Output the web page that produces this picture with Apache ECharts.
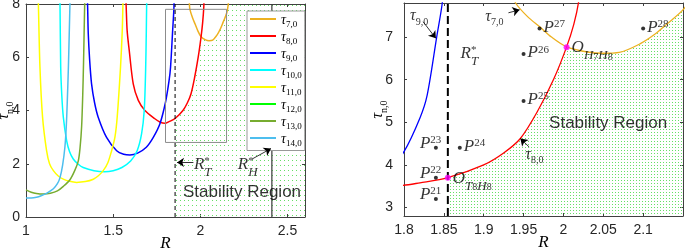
<!DOCTYPE html>
<html>
<head>
<meta charset="utf-8">
<script src="https://cdn.jsdelivr.net/npm/echarts@6/dist/echarts.min.js"></script>
<style>html,body{margin:0;background:#fff}#box{width:685px;height:251px}</style>
</head>
<body>
<div id="box"></div>
<script>
// curves tau_{n,0}(R)
var tau7 = [[1.934,8.4],[1.937,8.0],[1.940,7.80],[1.955,7.48],[1.971,7.23],[1.985,7.0],[2.004,6.77],[2.03,6.65],[2.05,6.62],[2.07,6.64],[2.096,6.84],[2.115,7.07],[2.13,7.31],[2.151,7.66],[2.160,8.0],[2.163,8.4]];
var tau8 = [[1.571,8.4],[1.574,8.0],[1.580,7.0],[1.592,6.26],[1.615,5.0],[1.644,4.38],[1.682,4.0],[1.739,3.69],[1.770,3.56],[1.797,3.52],[1.820,3.58],[1.855,3.70],[1.90,4.0],[1.925,4.28],[1.946,4.62],[1.967,5.24],[1.988,6.02],[2.004,6.77],[2.013,7.3],[2.019,7.82],[2.022,8.4]];
var tau9 = [[1.350,8.4],[1.353,8.0],[1.357,6.9],[1.365,5.9],[1.376,5.0],[1.393,4.3],[1.414,3.75],[1.462,2.99],[1.52,2.49],[1.56,2.36],[1.596,2.33],[1.64,2.40],[1.69,2.62],[1.73,2.99],[1.768,3.5],[1.80,4.31],[1.82,5.1],[1.829,5.63],[1.841,7.0],[1.848,7.8],[1.850,8.4]];
var tau10 = [[1.193,8.4],[1.195,8.0],[1.199,5.63],[1.205,4.6],[1.214,3.75],[1.233,2.87],[1.250,2.45],[1.271,2.18],[1.30,1.98],[1.328,1.86],[1.39,1.74],[1.45,1.70],[1.50,1.74],[1.55,1.86],[1.60,2.1],[1.638,2.5],[1.663,3.13],[1.678,4.0],[1.686,5.5],[1.690,7.0],[1.692,8.0],[1.694,8.4]];
var tau11 = [[1.069,8.4],[1.071,8.0],[1.080,5.63],[1.095,3.75],[1.118,2.49],[1.135,2.0],[1.157,1.74],[1.185,1.54],[1.214,1.42],[1.25,1.34],[1.29,1.30],[1.34,1.33],[1.386,1.42],[1.415,1.55],[1.443,1.74],[1.47,2.05],[1.491,2.49],[1.510,3.0],[1.523,3.75],[1.542,5.63],[1.552,7.0],[1.556,8.0],[1.558,8.4]];
var tau12 = [];
var tau13 = [[1.0,1.02],[1.03,0.93],[1.06,0.88],[1.10,0.86],[1.14,0.89],[1.18,0.98],[1.214,1.15],[1.252,1.40],[1.28,1.75],[1.30,2.11],[1.310,2.6],[1.319,3.4],[1.325,4.5],[1.330,5.8],[1.335,7.5],[1.338,8.4]];
var tau14 = [[1.0,0.71],[1.03,0.71],[1.06,0.74],[1.09,0.81],[1.12,0.90],[1.157,1.06],[1.18,1.25],[1.195,1.48],[1.210,1.95],[1.223,2.62],[1.231,3.4],[1.237,4.38],[1.243,5.6],[1.248,6.89],[1.252,8.0],[1.253,8.4]];

var names = ['τ7,0','τ8,0','τ9,0','τ10,0','τ11,0','τ12,0','τ13,0','τ14,0'];
var colors = ['#EDB120','#FF0000','#0000FF','#00FFFF','#FFFF00','#00FF00','#77AC30','#4DBEEE'];
var curves = [tau7, tau8, tau9, tau10, tau11, tau12, tau13, tau14];

var RT = 1.855, RH = 2.41;            // R*_T, R*_H
var OT = [1.855, 3.70], OH = [2.004, 6.76];
// sample points P^21..P^28 : [label, R, tau]
var pts = [['21',1.84,3.2],['22',1.84,3.7],['23',1.84,4.4],['24',1.87,4.4],['25',1.95,5.5],['26',1.95,6.6],['27',1.97,7.2],['28',2.1,7.2]];

var xTicksL = [1, 1.5, 2, 2.5], yTicksL = [0, 2, 4, 6, 8];
var xTicksR = [1.8, 1.85, 1.9, 1.95, 2, 2.05, 2.1], yTicksR = [3, 4, 5, 6, 7];
var inset = [[1.8,2.8],[2.15,2.8],[2.15,7.8],[1.8,7.8],[1.8,2.8]];

// stability boundary: R*_T -> along tau8 -> O_H7H8 -> along tau7 -> top
var stab = [OT].concat(tau8.filter(function (p) { return p[0] > OT[0] && p[0] < OH[0]; }))
  .concat([OH]).concat(tau7.filter(function (p) { return p[0] > OH[0]; })).concat([[2.6, 8.4]]);

var serif = "'Liberation Serif','DejaVu Serif',serif";
var sans = "'Liberation Sans',Arial,sans-serif";

function dots(w, h) {
  var c = document.createElement('canvas');
  c.width = w; c.height = h;
  var g = c.getContext('2d');
  g.fillStyle = '#66e066';
  g.fillRect(0, 0, 1, 1);
  return c;
}

var rich = {
  R: { fontFamily: serif, fontStyle: 'italic', fontSize: 17, lineHeight: 16, verticalAlign: 'top', color: '#000' },
  st: { fontFamily: serif, fontSize: 11, lineHeight: 8, verticalAlign: 'top', width: 0, color: '#000' },
  sb: { fontFamily: serif, fontStyle: 'italic', fontSize: 13, lineHeight: 8, padding: [10, 0, 0, 0], verticalAlign: 'top', color: '#000' },
  sd: { fontFamily: serif, fontSize: 10, lineHeight: 6, padding: [13, 0, 0, 0], verticalAlign: 'top', color: '#000' },
  up: { fontFamily: serif, fontSize: 11, lineHeight: 8, verticalAlign: 'top', color: '#000' },
  t: { fontFamily: serif, fontStyle: 'italic', fontSize: 16, lineHeight: 14, verticalAlign: 'top', color: '#000' },
  ts: { fontFamily: serif, fontSize: 10, lineHeight: 6, padding: [9, 0, 0, 0], verticalAlign: 'top', color: '#000' },
  sr: { fontFamily: sans, fontSize: 17, color: '#000' }
};

function tauTxt(n) { return '{t|τ}{ts|' + n + '}'; }

// text annotations [R, tau, text]
var notesL = [[1.963, 2.0, '{R|R}{st|*}{sb|T}'], [2.215, 2.0, '{R|R}{st|*}{sb|H}'], [1.90, 0.91, '{sr|Stability Region}']];
var notesR = [[1.8075, 7.52, tauTxt('9,0')], [1.902, 7.5, tauTxt('7,0')], [1.952, 4.27, tauTxt('8,0')],
  [1.871, 6.63, '{R|R}{st|*}{sb|T}'], [1.982, 4.97, '{sr|Stability Region}']];
var arrowsL = [[[1.96, 2.05], [1.866, 2.05]], [[2.30, 2.19], [2.405, 2.57]]];
var arrowsR = [[[1.824, 7.36], [1.840, 6.97]], [[1.931, 7.57], [1.945, 7.64]], [[1.957, 4.42], [1.946, 4.62]]];

var axisCol = '#404040';
function xAx(g, min, max, ticks, top) {
  return {
    type: 'value', gridIndex: g, min: min, max: max, position: top ? 'top' : 'bottom',
    splitLine: { show: false },
    axisLine: { onZero: false, lineStyle: { color: axisCol, width: 1 } },
    axisTick: { inside: true, length: 3, customValues: ticks, lineStyle: { color: axisCol } },
    axisLabel: { show: !top, customValues: ticks, margin: 7, color: '#262626', fontFamily: sans, fontSize: 14,
      formatter: function (v) { return String(+(+v).toFixed(2)); } },
    name: top ? '' : '{R|R}', nameLocation: 'middle', nameGap: 18, nameMoveOverlap: false, nameTextStyle: { rich: rich }
  };
}
function yAx(g, min, max, ticks, right, gap, mg) {
  return {
    type: 'value', gridIndex: g, min: min, max: max, position: right ? 'right' : 'left',
    splitLine: { show: false },
    axisLine: { onZero: false, lineStyle: { color: axisCol, width: 1 } },
    axisTick: { inside: true, length: 3, customValues: ticks, lineStyle: { color: axisCol } },
    axisLabel: { show: !right, customValues: ticks, margin: mg, color: '#262626', fontFamily: sans, fontSize: 14 },
    name: right ? '' : '{t|τ}{ts|n,0}', nameLocation: 'middle', nameGap: gap, nameMoveOverlap: false, nameTextStyle: { rich: rich }
  };
}

var series = [];
function addLine(g, name, data, color, w, extra) {
  var s = { name: name, type: 'line', xAxisIndex: g * 2, yAxisIndex: g * 2, data: data, symbol: 'none',
    lineStyle: { color: color, width: w }, itemStyle: { color: color }, z: 3, silent: true };
  for (var k in extra) s[k] = extra[k];
  series.push(s);
}

// stability regions (dotted)
[0, 1].forEach(function (g) {
  series.push({ type: 'line', xAxisIndex: g * 2, yAxisIndex: g * 2, data: stab, symbol: 'none', silent: true, z: 1,
    lineStyle: { width: 0 },
    areaStyle: { origin: 'start', opacity: 1, color: { image: g ? dots(3, 3) : dots(4, 5), repeat: 'repeat' } } });
});

// left: all curves
curves.forEach(function (d, i) { addLine(0, names[i], d, colors[i], 1.5, { smooth: 0.3 }); });
addLine(0, 'RT', [[RT, 0], [RT, 8]], '#000', 1, { lineStyle: { color: '#000', width: 1, type: [4, 3] } });
addLine(0, 'RH', [[RH, 0], [RH, 8]], '#3a3a3a', 1.2, {});
addLine(0, 'inset', inset, '#8c8c8c', 1, {});

// right: zoomed curves
[0, 1, 2].forEach(function (i) { addLine(1, names[i], curves[i], colors[i], 1.3, { smooth: 0.3 }); });
addLine(1, 'RT2', [[RT, 2.8], [RT, 7.8]], '#000', 2, { lineStyle: { color: '#000', width: 2, type: [8, 4] } });

series.push({ type: 'scatter', xAxisIndex: 2, yAxisIndex: 2, symbol: 'circle', symbolSize: 4, itemStyle: { color: '#000' }, z: 6, silent: true,
  data: pts.map(function (p) {
    var left = +p[0] < 24;
    return { value: [p[1], p[2]], label: { show: true, position: 'right', distance: 2, offset: left ? [-20, -5] : [0, -2],
      formatter: '{R|P}{up|' + p[0] + '}', rich: rich } };
  }) });
series.push({ type: 'scatter', xAxisIndex: 2, yAxisIndex: 2, symbol: 'circle', symbolSize: 6, itemStyle: { color: '#FF00FF' }, z: 7, silent: true,
  data: [
    { value: OT, label: { show: true, position: 'right', distance: 2, formatter: '{R|O}{sb|T}{sd|8}{sb|H}{sd|8}', rich: rich } },
    { value: OH, label: { show: true, position: 'right', distance: 2, formatter: '{R|O}{sb|H}{sd|7}{sb|H}{sd|8}', rich: rich } }
  ] });

[[notesL, arrowsL, 0], [notesR, arrowsR, 1]].forEach(function (a) {
  var g = a[2];
  series.push({ type: 'scatter', xAxisIndex: g * 2, yAxisIndex: g * 2, symbolSize: 0, z: 8, silent: true,
    data: a[0].map(function (n) {
      return { value: [n[0], n[1]], label: { show: true, position: 'right', distance: 0, formatter: n[2], rich: rich } };
    }) });
  series.push({ type: 'lines', coordinateSystem: 'cartesian2d', xAxisIndex: g * 2, yAxisIndex: g * 2, z: 8, silent: true,
    symbol: ['none', 'arrow'], symbolSize: 7, lineStyle: { color: '#000', width: 0.8, opacity: 1 },
    data: a[1].map(function (c) { return { coords: c }; }) });
});

var chart = echarts.init(document.getElementById('box'), null, { renderer: 'canvas' });
chart.setOption({
  animation: false,
  grid: [
    { left: 26, top: 4, width: 279, height: 213, show: false, outerBoundsMode: 'none', containLabel: false },
    { left: 404, top: 3, width: 279, height: 213, show: false, outerBoundsMode: 'none', containLabel: false }
  ],
  xAxis: [xAx(0, 1, 2.6, xTicksL, false), xAx(0, 1, 2.6, xTicksL, true), xAx(1, 1.8, 2.15, xTicksR, false), xAx(1, 1.8, 2.15, xTicksR, true)],
  yAxis: [yAx(0, 0, 8, yTicksL, false, 16, 6), yAx(0, 0, 8, yTicksL, true, 0, 0), yAx(1, 2.8, 7.8, yTicksR, false, 20, 11), yAx(1, 2.8, 7.8, yTicksR, true, 0, 0)],
  legend: {
    data: names, orient: 'vertical', left: 247, top: 11, padding: [2, 3, 2, 3], itemWidth: 26, itemHeight: 2, itemGap: 0.5,
    icon: 'rect', selectedMode: false, backgroundColor: '#fff', borderColor: '#999', borderWidth: 1,
    formatter: function (n) { return tauTxt(n.slice(1)); },
    textStyle: { rich: { t: { fontFamily: serif, fontStyle: 'italic', fontSize: 14, lineHeight: 12, verticalAlign: 'top', color: '#000' },
      ts: { fontFamily: serif, fontSize: 9, lineHeight: 6, padding: [7.5, 0, 0, 0], verticalAlign: 'top', color: '#000' } } }
  },
  series: series
});
</script>
</body>
</html>
